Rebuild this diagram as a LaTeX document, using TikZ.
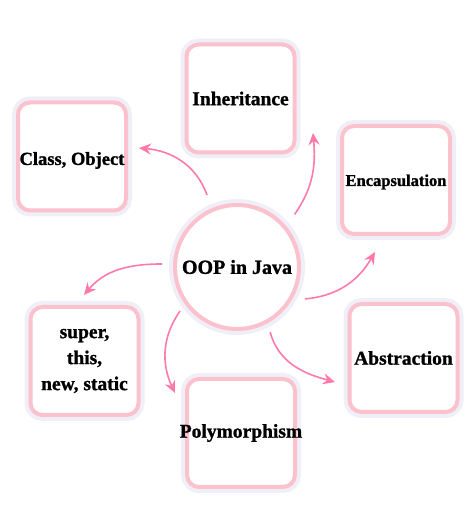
\documentclass[tikz,border=0pt]{standalone}
\usepackage{fontspec}
\setmainfont{Liberation Serif}[BoldFeatures={FakeBold=1.2}]
\usetikzlibrary{arrows.meta,calc}
\definecolor{pinkb}{HTML}{FBC1CC}
\definecolor{halo}{HTML}{F0EFF8}
\definecolor{arr}{HTML}{FF7AAB}
\begin{document}
\begin{tikzpicture}[x=1pt,y=1pt]
\tikzset{
  topic/.style={draw=pinkb, line width=4pt, fill=white, rounded corners=12pt,
    minimum width=108pt, minimum height=108pt, inner sep=0pt, align=center,
    font=\bfseries\fontsize{19.5}{26}\selectfont,
    preaction={draw=halo, line width=12pt}},
  hub/.style={circle, draw=pinkb, line width=4pt, fill=white, minimum size=124pt,
    inner sep=0pt, font=\bfseries\fontsize{20}{24}\selectfont,
    preaction={draw=halo, line width=12pt}},
  link/.style={draw=arr, line width=1.6pt, -{Stealth[length=12pt,width=11pt,inset=4pt]}}
}
\useasboundingbox (0,0) rectangle (466,532);
\node[hub] (c) at (237,265) {OOP in Java};
\node[topic, font=\bfseries\fontsize{18.5}{24}\selectfont] (cls) at (72,375.5) {\raisebox{-4pt}[\height][\depth]{Class, Object}};
\node[topic] (inh) at (240.5,433.5) {Inheritance};
\node[topic, font=\bfseries\fontsize{16.5}{20}\selectfont] (enc) at (396,352) {\raisebox{-2pt}[\height][\depth]{Encapsulation}};
\node[topic] (abs) at (403.5,174) {Abstraction};
\node[topic, font=\bfseries\fontsize{19.5}{24}\selectfont] (poly) at (241,99) {\makebox[0pt][c]{Polymorphism}};
\node[topic] (sup) at (84.5,171) {super,\\this,\\new, static};
\draw[link] ($(c)+(112.6:78)$) to[out=110,in=-5] ($(cls.center)+(67,8.5)$);
\draw[link] ($(c)+(42.4:78)$) to[out=55,in=-85] ($(inh.center)+(72.5,-34.5)$);
\draw[link] ($(c)+(-25.2:75)$) to[out=5,in=-120] ($(enc.center)+(-21,-72)$);
\draw[link] ($(c)+(-63:73)$) to[out=-75,in=165] ($(abs.center)+(-68.5,-24)$);
\draw[link] ($(c)+(217.7:72)$) to[out=235,in=115] ($(poly.center)+(-66,40)$);
\draw[link] ($(c)+(177.7:75)$) to[out=180,in=50] ($(sup.center)+(-0.5,66)$);
\end{tikzpicture}
\end{document}
